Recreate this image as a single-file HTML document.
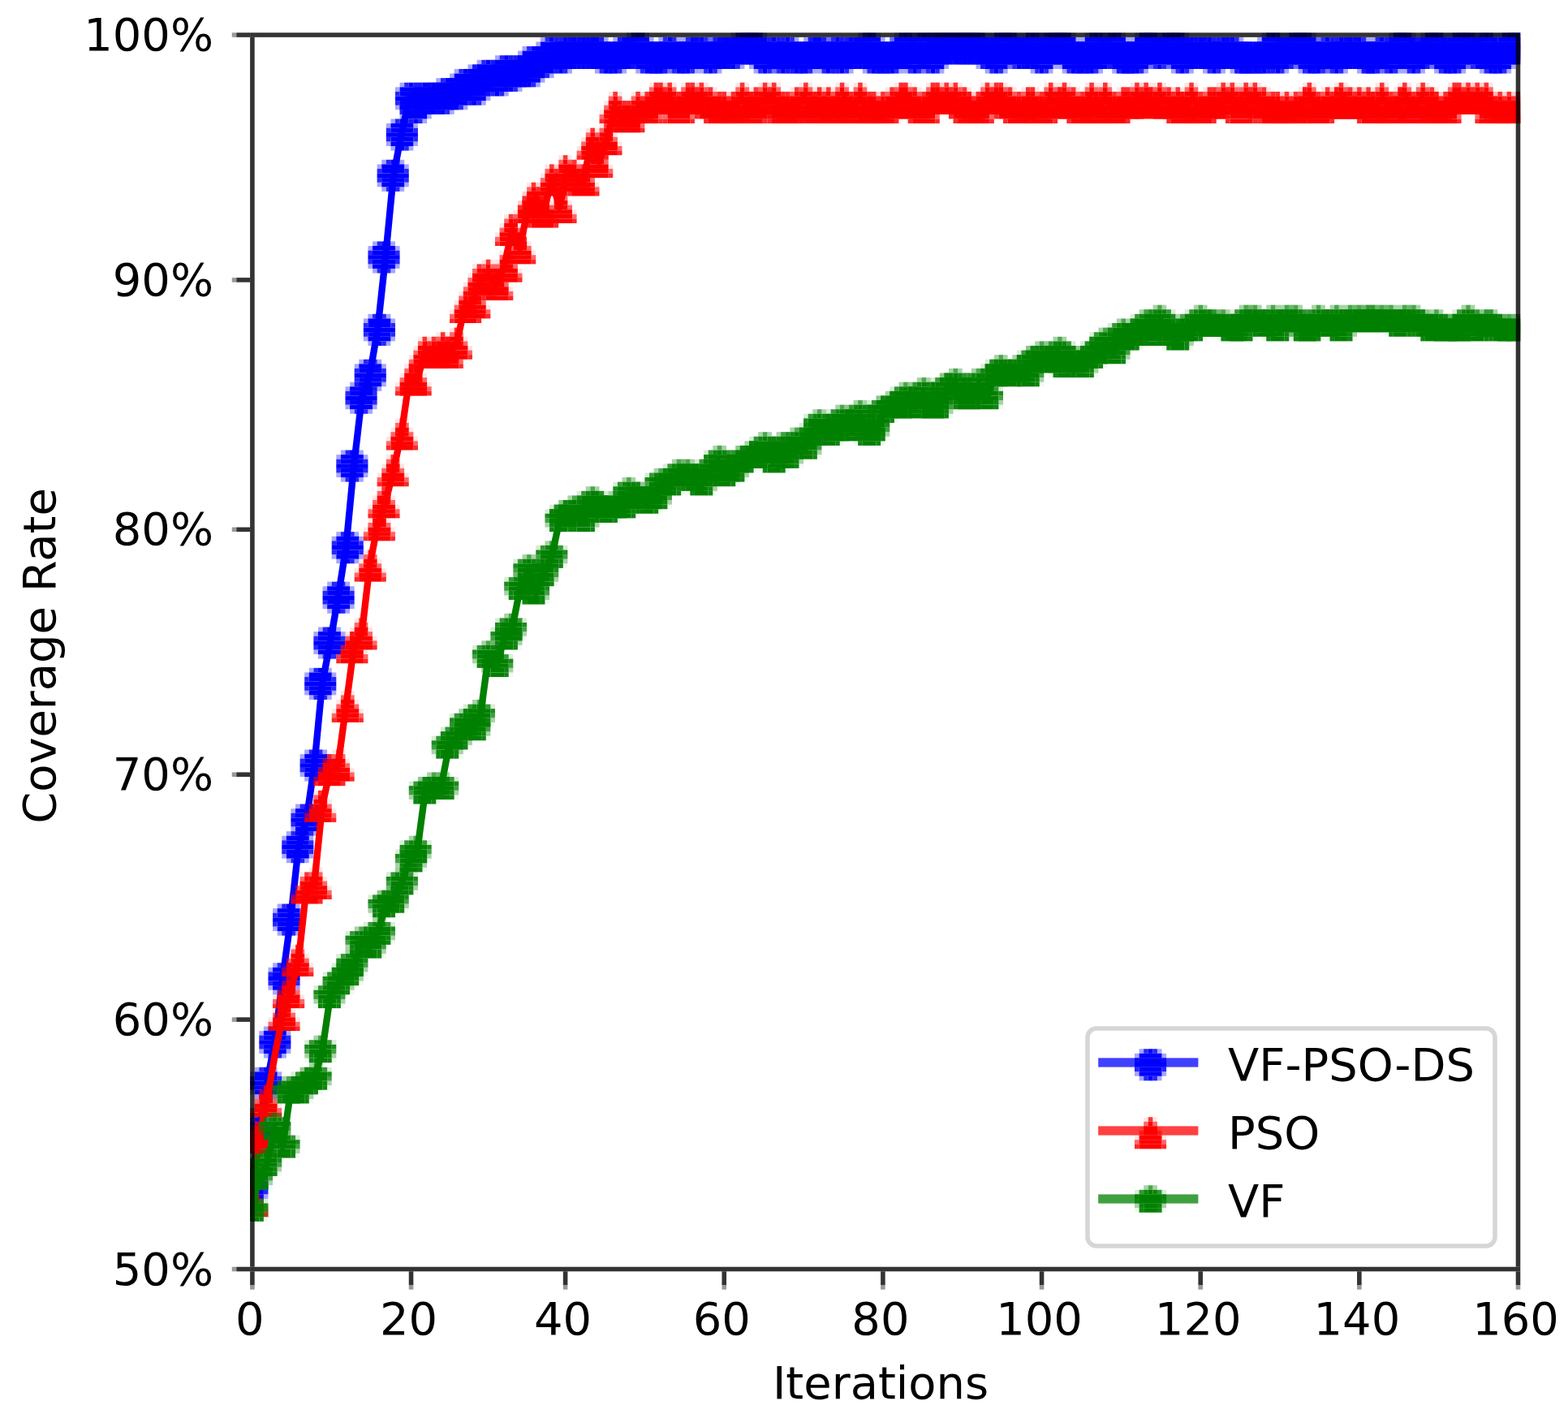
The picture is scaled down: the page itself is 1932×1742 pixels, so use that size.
<!DOCTYPE html>
<html lang="en">
<head>
<meta charset="utf-8">
<title>Coverage Rate vs Iterations</title>
<style>
html,body{margin:0;padding:0;background:#fff;}
body{width:1932px;height:1742px;overflow:hidden;}
svg{display:block;}
text{font-family:"DejaVu Sans","Liberation Sans",sans-serif;font-size:55.9px;fill:#000;}
</style>
</head>
<body>
<svg xmlns="http://www.w3.org/2000/svg" width="1932" height="1742" viewBox="0 0 1932 1742">
<rect width="1932" height="1742" fill="#fff"/>
<defs><g id="mc"><rect x="5.59" y="0" width="5.59" height="5.59" fill-opacity="0.35"/><rect x="11.18" y="0" width="5.59" height="5.59" fill-opacity="0.85"/><rect x="16.77" y="0" width="5.59" height="5.59"/><rect x="22.36" y="0" width="5.59" height="5.59" fill-opacity="0.85"/><rect x="27.95" y="0" width="5.59" height="5.59" fill-opacity="0.35"/><rect x="0" y="5.59" width="5.59" height="5.59" fill-opacity="0.35"/><rect x="5.59" y="5.59" width="27.95" height="5.59"/><rect x="33.54" y="5.59" width="5.59" height="5.59" fill-opacity="0.35"/><rect x="0" y="11.18" width="5.59" height="5.59" fill-opacity="0.85"/><rect x="5.59" y="11.18" width="27.95" height="5.59"/><rect x="33.54" y="11.18" width="5.59" height="5.59" fill-opacity="0.85"/><rect x="0" y="16.77" width="39.13" height="5.59"/><rect x="0" y="22.36" width="5.59" height="5.59" fill-opacity="0.85"/><rect x="5.59" y="22.36" width="27.95" height="5.59"/><rect x="33.54" y="22.36" width="5.59" height="5.59" fill-opacity="0.85"/><rect x="0" y="27.95" width="5.59" height="5.59" fill-opacity="0.35"/><rect x="5.59" y="27.95" width="27.95" height="5.59"/><rect x="33.54" y="27.95" width="5.59" height="5.59" fill-opacity="0.35"/><rect x="5.59" y="33.54" width="5.59" height="5.59" fill-opacity="0.35"/><rect x="11.18" y="33.54" width="5.59" height="5.59" fill-opacity="0.85"/><rect x="16.77" y="33.54" width="5.59" height="5.59"/><rect x="22.36" y="33.54" width="5.59" height="5.59" fill-opacity="0.85"/><rect x="27.95" y="33.54" width="5.59" height="5.59" fill-opacity="0.35"/></g><g id="mt"><rect x="11.18" y="0" width="5.59" height="5.59" fill-opacity="0.1"/><rect x="16.77" y="0" width="5.59" height="5.59" fill-opacity="0.8"/><rect x="22.36" y="0" width="5.59" height="5.59" fill-opacity="0.1"/><rect x="11.18" y="5.59" width="5.59" height="5.59" fill-opacity="0.6"/><rect x="16.77" y="5.59" width="5.59" height="5.59"/><rect x="22.36" y="5.59" width="5.59" height="5.59" fill-opacity="0.6"/><rect x="5.59" y="11.18" width="5.59" height="5.59" fill-opacity="0.1"/><rect x="11.18" y="11.18" width="16.77" height="5.59"/><rect x="27.95" y="11.18" width="5.59" height="5.59" fill-opacity="0.1"/><rect x="5.59" y="16.77" width="5.59" height="5.59" fill-opacity="0.6"/><rect x="11.18" y="16.77" width="16.77" height="5.59"/><rect x="27.95" y="16.77" width="5.59" height="5.59" fill-opacity="0.6"/><rect x="0" y="22.36" width="5.59" height="5.59" fill-opacity="0.1"/><rect x="5.59" y="22.36" width="27.95" height="5.59"/><rect x="33.54" y="22.36" width="5.59" height="5.59" fill-opacity="0.1"/><rect x="0" y="27.95" width="5.59" height="5.59" fill-opacity="0.6"/><rect x="5.59" y="27.95" width="27.95" height="5.59"/><rect x="33.54" y="27.95" width="5.59" height="5.59" fill-opacity="0.6"/><rect x="0" y="33.54" width="5.59" height="5.59" fill-opacity="0.85"/><rect x="5.59" y="33.54" width="27.95" height="5.59"/><rect x="33.54" y="33.54" width="5.59" height="5.59" fill-opacity="0.85"/></g><g id="mp"><rect x="11.18" y="0" width="5.59" height="5.59" fill-opacity="0.35"/><rect x="16.77" y="0" width="5.59" height="5.59" fill-opacity="0.7"/><rect x="22.36" y="0" width="5.59" height="5.59" fill-opacity="0.35"/><rect x="0" y="5.59" width="5.59" height="5.59" fill-opacity="0.15"/><rect x="5.59" y="5.59" width="5.59" height="5.59" fill-opacity="0.8"/><rect x="11.18" y="5.59" width="5.59" height="5.59" fill-opacity="0.95"/><rect x="16.77" y="5.59" width="5.59" height="5.59"/><rect x="22.36" y="5.59" width="5.59" height="5.59" fill-opacity="0.95"/><rect x="27.95" y="5.59" width="5.59" height="5.59" fill-opacity="0.8"/><rect x="33.54" y="5.59" width="5.59" height="5.59" fill-opacity="0.15"/><rect x="0" y="11.18" width="5.59" height="5.59" fill-opacity="0.9"/><rect x="5.59" y="11.18" width="27.95" height="5.59"/><rect x="33.54" y="11.18" width="5.59" height="5.59" fill-opacity="0.9"/><rect x="0" y="16.77" width="5.59" height="5.59" fill-opacity="0.75"/><rect x="5.59" y="16.77" width="27.95" height="5.59"/><rect x="33.54" y="16.77" width="5.59" height="5.59" fill-opacity="0.75"/><rect x="0" y="22.36" width="5.59" height="5.59" fill-opacity="0.35"/><rect x="5.59" y="22.36" width="5.59" height="5.59" fill-opacity="0.95"/><rect x="11.18" y="22.36" width="16.77" height="5.59"/><rect x="27.95" y="22.36" width="5.59" height="5.59" fill-opacity="0.95"/><rect x="33.54" y="22.36" width="5.59" height="5.59" fill-opacity="0.35"/><rect x="0" y="27.95" width="5.59" height="5.59" fill-opacity="0.05"/><rect x="5.59" y="27.95" width="5.59" height="5.59" fill-opacity="0.95"/><rect x="11.18" y="27.95" width="16.77" height="5.59"/><rect x="27.95" y="27.95" width="5.59" height="5.59" fill-opacity="0.95"/><rect x="33.54" y="27.95" width="5.59" height="5.59" fill-opacity="0.05"/></g>
<clipPath id="ax"><rect x="308.1" y="40.25" width="1565.2" height="1526.07"/></clipPath></defs>
<g clip-path="url(#ax)">
<g fill="#0000ff">
<polyline points="309.27,1462.9 319.02,1395.82 328.77,1334.33 338.52,1284.02 348.26,1205.76 358.01,1133.09 367.76,1043.65 377.51,1010.12 387.25,943.03 397,842.41 406.75,792.11 416.5,736.21 426.24,674.72 435.99,574.1 445.74,490.25 455.49,462.3 465.23,406.39 474.98,316.95 484.73,216.34 494.48,166.03 504.23,121.31 513.97,132.49 523.72,121.31 533.47,121.31 543.22,121.31 552.96,115.72 562.71,115.72 572.46,104.53 582.21,110.12 591.95,98.95 601.7,93.36 611.45,98.95 621.2,87.77 630.94,93.36 640.69,87.77 650.44,87.77 660.19,76.59 669.93,76.59 679.68,65.41 689.43,71 699.18,65.41 708.92,65.41 718.67,65.41 728.42,65.41 738.17,65.41 747.91,71 757.66,71 767.41,65.41 777.16,65.41 786.9,59.81 796.65,71 806.4,71 816.15,71 825.89,65.41 835.64,71 845.39,71 855.14,65.41 864.88,65.41 874.63,71 884.38,65.41 894.13,65.41 903.88,65.41 913.62,59.81 923.37,59.81 933.12,59.81 942.87,71 952.61,65.41 962.36,71 972.11,65.41 981.86,71 991.6,71 1001.35,65.41 1011.1,65.41 1020.85,71 1030.59,65.41 1040.34,71 1050.09,65.41 1059.84,65.41 1069.58,59.81 1079.33,71 1089.08,71 1098.83,71 1108.57,65.41 1118.32,59.81 1128.07,71 1137.82,59.81 1147.56,71 1157.31,59.81 1167.06,59.81 1176.81,59.81 1186.55,59.81 1196.3,59.81 1206.05,59.81 1215.8,65.41 1225.54,71 1235.29,59.81 1245.04,59.81 1254.79,65.41 1264.54,65.41 1274.28,59.81 1284.03,71 1293.78,59.81 1303.53,59.81 1313.27,59.81 1323.02,71 1332.77,71 1342.52,71 1352.26,59.81 1362.01,65.41 1371.76,59.81 1381.51,71 1391.25,71 1401,71 1410.75,59.81 1420.5,59.81 1430.24,65.41 1439.99,59.81 1449.74,59.81 1459.49,71 1469.23,65.41 1478.98,65.41 1488.73,65.41 1498.48,71 1508.22,65.41 1517.97,65.41 1527.72,71 1537.47,71 1547.21,71 1556.96,71 1566.71,59.81 1576.46,71 1586.2,65.41 1595.95,59.81 1605.7,59.81 1615.45,71 1625.19,71 1634.94,65.41 1644.69,71 1654.44,65.41 1664.19,65.41 1673.93,65.41 1683.68,71 1693.43,71 1703.18,65.41 1712.92,71 1722.67,59.81 1732.42,59.81 1742.17,71 1751.91,65.41 1761.66,59.81 1771.41,59.81 1781.16,71 1790.9,71 1800.65,59.81 1810.4,59.81 1820.15,65.41 1829.89,59.81 1839.64,71 1849.39,71 1859.14,59.81 1868.88,59.81" fill="none" stroke="#0000ff" stroke-width="8.38" stroke-linejoin="round"/>
<use href="#mc" x="291.33" y="1443.34"/>
<use href="#mc" x="296.92" y="1376.26"/>
<use href="#mc" x="308.1" y="1314.77"/>
<use href="#mc" x="319.28" y="1264.46"/>
<use href="#mc" x="330.46" y="1186.2"/>
<use href="#mc" x="336.05" y="1113.53"/>
<use href="#mc" x="347.23" y="1024.09"/>
<use href="#mc" x="358.41" y="990.55"/>
<use href="#mc" x="369.59" y="923.47"/>
<use href="#mc" x="375.18" y="822.85"/>
<use href="#mc" x="386.36" y="772.54"/>
<use href="#mc" x="397.54" y="716.64"/>
<use href="#mc" x="408.72" y="655.15"/>
<use href="#mc" x="414.31" y="554.53"/>
<use href="#mc" x="425.49" y="470.68"/>
<use href="#mc" x="436.67" y="442.73"/>
<use href="#mc" x="447.85" y="386.83"/>
<use href="#mc" x="453.44" y="297.39"/>
<use href="#mc" x="464.62" y="196.77"/>
<use href="#mc" x="475.8" y="146.46"/>
<use href="#mc" x="486.98" y="101.74"/>
<use href="#mc" x="492.57" y="112.92"/>
<use href="#mc" x="503.75" y="101.74"/>
<use href="#mc" x="514.93" y="101.74"/>
<use href="#mc" x="526.11" y="101.74"/>
<use href="#mc" x="531.7" y="96.15"/>
<use href="#mc" x="542.88" y="96.15"/>
<use href="#mc" x="554.06" y="84.97"/>
<use href="#mc" x="565.24" y="90.56"/>
<use href="#mc" x="570.83" y="79.38"/>
<use href="#mc" x="582.01" y="73.79"/>
<use href="#mc" x="593.19" y="79.38"/>
<use href="#mc" x="604.37" y="68.2"/>
<use href="#mc" x="609.96" y="73.79"/>
<use href="#mc" x="621.14" y="68.2"/>
<use href="#mc" x="632.32" y="68.2"/>
<use href="#mc" x="637.91" y="57.02"/>
<use href="#mc" x="649.09" y="57.02"/>
<use href="#mc" x="660.27" y="45.84"/>
<use href="#mc" x="671.45" y="51.43"/>
<use href="#mc" x="677.04" y="45.84"/>
<use href="#mc" x="688.22" y="45.84"/>
<use href="#mc" x="699.4" y="45.84"/>
<use href="#mc" x="710.58" y="45.84"/>
<use href="#mc" x="716.17" y="45.84"/>
<use href="#mc" x="727.35" y="51.43"/>
<use href="#mc" x="738.53" y="51.43"/>
<use href="#mc" x="749.71" y="45.84"/>
<use href="#mc" x="755.3" y="45.84"/>
<use href="#mc" x="766.48" y="40.25"/>
<use href="#mc" x="777.66" y="51.43"/>
<use href="#mc" x="788.84" y="51.43"/>
<use href="#mc" x="794.43" y="51.43"/>
<use href="#mc" x="805.61" y="45.84"/>
<use href="#mc" x="816.79" y="51.43"/>
<use href="#mc" x="827.97" y="51.43"/>
<use href="#mc" x="833.56" y="45.84"/>
<use href="#mc" x="844.74" y="45.84"/>
<use href="#mc" x="855.92" y="51.43"/>
<use href="#mc" x="867.1" y="45.84"/>
<use href="#mc" x="872.69" y="45.84"/>
<use href="#mc" x="883.87" y="45.84"/>
<use href="#mc" x="895.05" y="40.25"/>
<use href="#mc" x="906.23" y="40.25"/>
<use href="#mc" x="911.82" y="40.25"/>
<use href="#mc" x="923" y="51.43"/>
<use href="#mc" x="934.18" y="45.84"/>
<use href="#mc" x="945.36" y="51.43"/>
<use href="#mc" x="950.95" y="45.84"/>
<use href="#mc" x="962.13" y="51.43"/>
<use href="#mc" x="973.31" y="51.43"/>
<use href="#mc" x="984.49" y="45.84"/>
<use href="#mc" x="990.08" y="45.84"/>
<use href="#mc" x="1001.26" y="51.43"/>
<use href="#mc" x="1012.44" y="45.84"/>
<use href="#mc" x="1018.03" y="51.43"/>
<use href="#mc" x="1029.21" y="45.84"/>
<use href="#mc" x="1040.39" y="45.84"/>
<use href="#mc" x="1051.57" y="40.25"/>
<use href="#mc" x="1057.16" y="51.43"/>
<use href="#mc" x="1068.34" y="51.43"/>
<use href="#mc" x="1079.52" y="51.43"/>
<use href="#mc" x="1090.7" y="45.84"/>
<use href="#mc" x="1096.29" y="40.25"/>
<use href="#mc" x="1107.47" y="51.43"/>
<use href="#mc" x="1118.65" y="40.25"/>
<use href="#mc" x="1129.83" y="51.43"/>
<use href="#mc" x="1135.42" y="40.25"/>
<use href="#mc" x="1146.6" y="40.25"/>
<use href="#mc" x="1157.78" y="40.25"/>
<use href="#mc" x="1168.96" y="40.25"/>
<use href="#mc" x="1174.55" y="40.25"/>
<use href="#mc" x="1185.73" y="40.25"/>
<use href="#mc" x="1196.91" y="45.84"/>
<use href="#mc" x="1208.09" y="51.43"/>
<use href="#mc" x="1213.68" y="40.25"/>
<use href="#mc" x="1224.86" y="40.25"/>
<use href="#mc" x="1236.04" y="45.84"/>
<use href="#mc" x="1247.22" y="45.84"/>
<use href="#mc" x="1252.81" y="40.25"/>
<use href="#mc" x="1263.99" y="51.43"/>
<use href="#mc" x="1275.17" y="40.25"/>
<use href="#mc" x="1286.35" y="40.25"/>
<use href="#mc" x="1291.94" y="40.25"/>
<use href="#mc" x="1303.12" y="51.43"/>
<use href="#mc" x="1314.3" y="51.43"/>
<use href="#mc" x="1325.48" y="51.43"/>
<use href="#mc" x="1331.07" y="40.25"/>
<use href="#mc" x="1342.25" y="45.84"/>
<use href="#mc" x="1353.43" y="40.25"/>
<use href="#mc" x="1364.61" y="51.43"/>
<use href="#mc" x="1370.2" y="51.43"/>
<use href="#mc" x="1381.38" y="51.43"/>
<use href="#mc" x="1392.56" y="40.25"/>
<use href="#mc" x="1398.15" y="40.25"/>
<use href="#mc" x="1409.33" y="45.84"/>
<use href="#mc" x="1420.51" y="40.25"/>
<use href="#mc" x="1431.69" y="40.25"/>
<use href="#mc" x="1437.28" y="51.43"/>
<use href="#mc" x="1448.46" y="45.84"/>
<use href="#mc" x="1459.64" y="45.84"/>
<use href="#mc" x="1470.82" y="45.84"/>
<use href="#mc" x="1476.41" y="51.43"/>
<use href="#mc" x="1487.59" y="45.84"/>
<use href="#mc" x="1498.77" y="45.84"/>
<use href="#mc" x="1509.95" y="51.43"/>
<use href="#mc" x="1515.54" y="51.43"/>
<use href="#mc" x="1526.72" y="51.43"/>
<use href="#mc" x="1537.9" y="51.43"/>
<use href="#mc" x="1549.08" y="40.25"/>
<use href="#mc" x="1554.67" y="51.43"/>
<use href="#mc" x="1565.85" y="45.84"/>
<use href="#mc" x="1577.03" y="40.25"/>
<use href="#mc" x="1588.21" y="40.25"/>
<use href="#mc" x="1593.8" y="51.43"/>
<use href="#mc" x="1604.98" y="51.43"/>
<use href="#mc" x="1616.16" y="45.84"/>
<use href="#mc" x="1627.34" y="51.43"/>
<use href="#mc" x="1632.93" y="45.84"/>
<use href="#mc" x="1644.11" y="45.84"/>
<use href="#mc" x="1655.29" y="45.84"/>
<use href="#mc" x="1666.47" y="51.43"/>
<use href="#mc" x="1672.06" y="51.43"/>
<use href="#mc" x="1683.24" y="45.84"/>
<use href="#mc" x="1694.42" y="51.43"/>
<use href="#mc" x="1705.6" y="40.25"/>
<use href="#mc" x="1711.19" y="40.25"/>
<use href="#mc" x="1722.37" y="51.43"/>
<use href="#mc" x="1733.55" y="45.84"/>
<use href="#mc" x="1744.73" y="40.25"/>
<use href="#mc" x="1750.32" y="40.25"/>
<use href="#mc" x="1761.5" y="51.43"/>
<use href="#mc" x="1772.68" y="51.43"/>
<use href="#mc" x="1778.27" y="40.25"/>
<use href="#mc" x="1789.45" y="40.25"/>
<use href="#mc" x="1800.63" y="45.84"/>
<use href="#mc" x="1811.81" y="40.25"/>
<use href="#mc" x="1817.4" y="51.43"/>
<use href="#mc" x="1828.58" y="51.43"/>
<use href="#mc" x="1839.76" y="40.25"/>
<use href="#mc" x="1850.94" y="40.25"/>
</g>
<g fill="#ff0000">
<polyline points="309.27,1479.67 319.02,1401.41 328.77,1356.69 338.52,1300.79 348.26,1250.48 358.01,1222.53 367.76,1183.4 377.51,1093.96 387.25,1088.37 397,993.35 406.75,948.62 416.5,943.03 426.24,870.37 435.99,797.69 445.74,780.92 455.49,697.07 465.23,646.76 474.98,618.81 484.73,579.68 494.48,534.97 504.23,467.88 513.97,467.88 523.72,434.34 533.47,434.34 543.22,428.75 552.96,434.34 562.71,423.17 572.46,378.44 582.21,372.86 591.95,344.9 601.7,339.31 611.45,350.5 621.2,328.13 630.94,283.42 640.69,305.77 650.44,255.47 660.19,244.28 669.93,261.06 679.68,221.93 689.43,255.47 699.18,210.75 708.92,216.34 718.67,221.93 728.42,177.21 738.17,199.56 747.91,171.62 757.66,132.49 767.41,143.66 777.16,143.66 786.9,132.49 796.65,132.49 806.4,121.31 816.15,121.31 825.89,121.31 835.64,132.49 845.39,121.31 855.14,121.31 864.88,121.31 874.63,126.89 884.38,132.49 894.13,132.49 903.88,132.49 913.62,121.31 923.37,132.49 933.12,126.89 942.87,121.31 952.61,121.31 962.36,132.49 972.11,132.49 981.86,126.89 991.6,121.31 1001.35,132.49 1011.1,126.89 1020.85,126.89 1030.59,132.49 1040.34,121.31 1050.09,132.49 1059.84,121.31 1069.58,132.49 1079.33,132.49 1089.08,132.49 1098.83,126.89 1108.57,121.31 1118.32,121.31 1128.07,126.89 1137.82,132.49 1147.56,121.31 1157.31,121.31 1167.06,121.31 1176.81,121.31 1186.55,126.89 1196.3,132.49 1206.05,132.49 1215.8,121.31 1225.54,121.31 1235.29,121.31 1245.04,126.89 1254.79,132.49 1264.54,126.89 1274.28,126.89 1284.03,132.49 1293.78,121.31 1303.53,126.89 1313.27,121.31 1323.02,126.89 1332.77,132.49 1342.52,121.31 1352.26,132.49 1362.01,121.31 1371.76,132.49 1381.51,126.89 1391.25,126.89 1401,121.31 1410.75,121.31 1420.5,126.89 1430.24,121.31 1439.99,126.89 1449.74,126.89 1459.49,132.49 1469.23,121.31 1478.98,132.49 1488.73,126.89 1498.48,126.89 1508.22,121.31 1517.97,121.31 1527.72,132.49 1537.47,121.31 1547.21,121.31 1556.96,126.89 1566.71,132.49 1576.46,132.49 1586.2,132.49 1595.95,132.49 1605.7,126.89 1615.45,121.31 1625.19,132.49 1634.94,126.89 1644.69,126.89 1654.44,121.31 1664.19,126.89 1673.93,126.89 1683.68,126.89 1693.43,132.49 1703.18,121.31 1712.92,132.49 1722.67,126.89 1732.42,121.31 1742.17,132.49 1751.91,121.31 1761.66,126.89 1771.41,132.49 1781.16,132.49 1790.9,121.31 1800.65,121.31 1810.4,121.31 1820.15,121.31 1829.89,121.31 1839.64,132.49 1849.39,132.49 1859.14,132.49 1868.88,132.49" fill="none" stroke="#ff0000" stroke-width="8.38" stroke-linejoin="round"/>
<use href="#mt" x="291.33" y="1460.11"/>
<use href="#mt" x="296.92" y="1381.85"/>
<use href="#mt" x="308.1" y="1337.13"/>
<use href="#mt" x="330.46" y="1230.92"/>
<use href="#mt" x="336.05" y="1202.97"/>
<use href="#mt" x="347.23" y="1163.84"/>
<use href="#mt" x="358.41" y="1074.4"/>
<use href="#mt" x="369.59" y="1068.81"/>
<use href="#mt" x="375.18" y="973.78"/>
<use href="#mt" x="386.36" y="929.06"/>
<use href="#mt" x="397.54" y="923.47"/>
<use href="#mt" x="408.72" y="850.8"/>
<use href="#mt" x="414.31" y="778.13"/>
<use href="#mt" x="425.49" y="761.36"/>
<use href="#mt" x="436.67" y="677.51"/>
<use href="#mt" x="447.85" y="627.2"/>
<use href="#mt" x="453.44" y="599.25"/>
<use href="#mt" x="464.62" y="560.12"/>
<use href="#mt" x="475.8" y="515.4"/>
<use href="#mt" x="486.98" y="448.32"/>
<use href="#mt" x="492.57" y="448.32"/>
<use href="#mt" x="503.75" y="414.78"/>
<use href="#mt" x="514.93" y="414.78"/>
<use href="#mt" x="526.11" y="409.19"/>
<use href="#mt" x="531.7" y="414.78"/>
<use href="#mt" x="542.88" y="403.6"/>
<use href="#mt" x="554.06" y="358.88"/>
<use href="#mt" x="565.24" y="353.29"/>
<use href="#mt" x="570.83" y="325.34"/>
<use href="#mt" x="582.01" y="319.75"/>
<use href="#mt" x="593.19" y="330.93"/>
<use href="#mt" x="604.37" y="308.57"/>
<use href="#mt" x="609.96" y="263.85"/>
<use href="#mt" x="621.14" y="286.21"/>
<use href="#mt" x="632.32" y="235.9"/>
<use href="#mt" x="637.91" y="224.72"/>
<use href="#mt" x="649.09" y="241.49"/>
<use href="#mt" x="660.27" y="202.36"/>
<use href="#mt" x="671.45" y="235.9"/>
<use href="#mt" x="677.04" y="191.18"/>
<use href="#mt" x="688.22" y="196.77"/>
<use href="#mt" x="699.4" y="202.36"/>
<use href="#mt" x="710.58" y="157.64"/>
<use href="#mt" x="716.17" y="180"/>
<use href="#mt" x="727.35" y="152.05"/>
<use href="#mt" x="738.53" y="112.92"/>
<use href="#mt" x="749.71" y="124.1"/>
<use href="#mt" x="755.3" y="124.1"/>
<use href="#mt" x="766.48" y="112.92"/>
<use href="#mt" x="777.66" y="112.92"/>
<use href="#mt" x="788.84" y="101.74"/>
<use href="#mt" x="794.43" y="101.74"/>
<use href="#mt" x="805.61" y="101.74"/>
<use href="#mt" x="816.79" y="112.92"/>
<use href="#mt" x="827.97" y="101.74"/>
<use href="#mt" x="833.56" y="101.74"/>
<use href="#mt" x="844.74" y="101.74"/>
<use href="#mt" x="855.92" y="107.33"/>
<use href="#mt" x="867.1" y="112.92"/>
<use href="#mt" x="872.69" y="112.92"/>
<use href="#mt" x="883.87" y="112.92"/>
<use href="#mt" x="895.05" y="101.74"/>
<use href="#mt" x="906.23" y="112.92"/>
<use href="#mt" x="911.82" y="107.33"/>
<use href="#mt" x="923" y="101.74"/>
<use href="#mt" x="934.18" y="101.74"/>
<use href="#mt" x="945.36" y="112.92"/>
<use href="#mt" x="950.95" y="112.92"/>
<use href="#mt" x="962.13" y="107.33"/>
<use href="#mt" x="973.31" y="101.74"/>
<use href="#mt" x="984.49" y="112.92"/>
<use href="#mt" x="990.08" y="107.33"/>
<use href="#mt" x="1001.26" y="107.33"/>
<use href="#mt" x="1012.44" y="112.92"/>
<use href="#mt" x="1018.03" y="101.74"/>
<use href="#mt" x="1029.21" y="112.92"/>
<use href="#mt" x="1040.39" y="101.74"/>
<use href="#mt" x="1051.57" y="112.92"/>
<use href="#mt" x="1057.16" y="112.92"/>
<use href="#mt" x="1068.34" y="112.92"/>
<use href="#mt" x="1079.52" y="107.33"/>
<use href="#mt" x="1090.7" y="101.74"/>
<use href="#mt" x="1096.29" y="101.74"/>
<use href="#mt" x="1107.47" y="107.33"/>
<use href="#mt" x="1118.65" y="112.92"/>
<use href="#mt" x="1129.83" y="101.74"/>
<use href="#mt" x="1135.42" y="101.74"/>
<use href="#mt" x="1146.6" y="101.74"/>
<use href="#mt" x="1157.78" y="101.74"/>
<use href="#mt" x="1168.96" y="107.33"/>
<use href="#mt" x="1174.55" y="112.92"/>
<use href="#mt" x="1185.73" y="112.92"/>
<use href="#mt" x="1196.91" y="101.74"/>
<use href="#mt" x="1208.09" y="101.74"/>
<use href="#mt" x="1213.68" y="101.74"/>
<use href="#mt" x="1224.86" y="107.33"/>
<use href="#mt" x="1236.04" y="112.92"/>
<use href="#mt" x="1247.22" y="107.33"/>
<use href="#mt" x="1252.81" y="107.33"/>
<use href="#mt" x="1263.99" y="112.92"/>
<use href="#mt" x="1275.17" y="101.74"/>
<use href="#mt" x="1286.35" y="107.33"/>
<use href="#mt" x="1291.94" y="101.74"/>
<use href="#mt" x="1303.12" y="107.33"/>
<use href="#mt" x="1314.3" y="112.92"/>
<use href="#mt" x="1325.48" y="101.74"/>
<use href="#mt" x="1331.07" y="112.92"/>
<use href="#mt" x="1342.25" y="101.74"/>
<use href="#mt" x="1353.43" y="112.92"/>
<use href="#mt" x="1364.61" y="107.33"/>
<use href="#mt" x="1370.2" y="107.33"/>
<use href="#mt" x="1381.38" y="101.74"/>
<use href="#mt" x="1392.56" y="101.74"/>
<use href="#mt" x="1398.15" y="107.33"/>
<use href="#mt" x="1409.33" y="101.74"/>
<use href="#mt" x="1420.51" y="107.33"/>
<use href="#mt" x="1431.69" y="107.33"/>
<use href="#mt" x="1437.28" y="112.92"/>
<use href="#mt" x="1448.46" y="101.74"/>
<use href="#mt" x="1459.64" y="112.92"/>
<use href="#mt" x="1470.82" y="107.33"/>
<use href="#mt" x="1476.41" y="107.33"/>
<use href="#mt" x="1487.59" y="101.74"/>
<use href="#mt" x="1498.77" y="101.74"/>
<use href="#mt" x="1509.95" y="112.92"/>
<use href="#mt" x="1515.54" y="101.74"/>
<use href="#mt" x="1526.72" y="101.74"/>
<use href="#mt" x="1537.9" y="107.33"/>
<use href="#mt" x="1549.08" y="112.92"/>
<use href="#mt" x="1554.67" y="112.92"/>
<use href="#mt" x="1565.85" y="112.92"/>
<use href="#mt" x="1577.03" y="112.92"/>
<use href="#mt" x="1588.21" y="107.33"/>
<use href="#mt" x="1593.8" y="101.74"/>
<use href="#mt" x="1604.98" y="112.92"/>
<use href="#mt" x="1616.16" y="107.33"/>
<use href="#mt" x="1627.34" y="107.33"/>
<use href="#mt" x="1632.93" y="101.74"/>
<use href="#mt" x="1644.11" y="107.33"/>
<use href="#mt" x="1655.29" y="107.33"/>
<use href="#mt" x="1666.47" y="107.33"/>
<use href="#mt" x="1672.06" y="112.92"/>
<use href="#mt" x="1683.24" y="101.74"/>
<use href="#mt" x="1694.42" y="112.92"/>
<use href="#mt" x="1705.6" y="107.33"/>
<use href="#mt" x="1711.19" y="101.74"/>
<use href="#mt" x="1722.37" y="112.92"/>
<use href="#mt" x="1733.55" y="101.74"/>
<use href="#mt" x="1744.73" y="107.33"/>
<use href="#mt" x="1750.32" y="112.92"/>
<use href="#mt" x="1761.5" y="112.92"/>
<use href="#mt" x="1772.68" y="101.74"/>
<use href="#mt" x="1778.27" y="101.74"/>
<use href="#mt" x="1789.45" y="101.74"/>
<use href="#mt" x="1800.63" y="101.74"/>
<use href="#mt" x="1811.81" y="101.74"/>
<use href="#mt" x="1817.4" y="112.92"/>
<use href="#mt" x="1828.58" y="112.92"/>
<use href="#mt" x="1839.76" y="112.92"/>
<use href="#mt" x="1850.94" y="112.92"/>
</g>
<g fill="#008000">
<polyline points="309.27,1490.85 319.02,1451.72 328.77,1434.95 338.52,1390.23 348.26,1412.59 358.01,1345.51 367.76,1345.51 377.51,1334.33 387.25,1328.74 397,1295.2 406.75,1228.12 416.5,1211.35 426.24,1200.17 435.99,1188.99 445.74,1161.04 455.49,1166.63 465.23,1149.86 474.98,1116.32 484.73,1110.73 494.48,1088.37 504.23,1060.42 513.97,1049.24 523.72,976.57 533.47,970.99 543.22,970.99 552.96,920.67 562.71,909.5 572.46,892.73 582.21,898.31 591.95,881.54 601.7,808.88 611.45,820.05 621.2,786.51 630.94,775.34 640.69,725.02 650.44,702.66 660.19,730.62 669.93,708.25 679.68,685.89 689.43,641.17 699.18,635.59 708.92,630 718.67,641.17 728.42,618.81 738.17,624.4 747.91,630 757.66,624.4 767.41,624.4 777.16,607.63 786.9,613.23 796.65,618.81 806.4,613.23 816.15,596.46 825.89,596.46 835.64,585.27 845.39,585.27 855.14,590.87 864.88,596.46 874.63,579.68 884.38,568.5 894.13,585.27 903.88,579.68 913.62,568.5 923.37,562.91 933.12,562.91 942.87,551.74 952.61,568.5 962.36,551.74 972.11,562.91 981.86,546.14 991.6,551.74 1001.35,534.97 1011.1,523.78 1020.85,534.97 1030.59,529.38 1040.34,518.19 1050.09,529.38 1059.84,512.61 1069.58,534.97 1079.33,529.38 1089.08,507.01 1098.83,501.43 1108.57,501.43 1118.32,490.25 1128.07,501.43 1137.82,484.65 1147.56,501.43 1157.31,501.43 1167.06,479.06 1176.81,473.47 1186.55,490.25 1196.3,490.25 1206.05,473.47 1215.8,490.25 1225.54,462.3 1235.29,456.7 1245.04,462.3 1254.79,456.7 1264.54,462.3 1274.28,445.52 1284.03,439.94 1293.78,445.52 1303.53,434.34 1313.27,451.12 1323.02,445.52 1332.77,451.12 1342.52,439.94 1352.26,434.34 1362.01,423.17 1371.76,434.34 1381.51,411.99 1391.25,417.57 1401,411.99 1410.75,400.81 1420.5,411.99 1430.24,395.21 1439.99,411.99 1449.74,417.57 1459.49,406.39 1469.23,406.39 1478.98,395.21 1488.73,400.81 1498.48,400.81 1508.22,400.81 1517.97,406.39 1527.72,406.39 1537.47,395.21 1547.21,395.21 1556.96,400.81 1566.71,395.21 1576.46,406.39 1586.2,395.21 1595.95,395.21 1605.7,406.39 1615.45,406.39 1625.19,395.21 1634.94,400.81 1644.69,395.21 1654.44,406.39 1664.19,395.21 1673.93,395.21 1683.68,395.21 1693.43,395.21 1703.18,395.21 1712.92,395.21 1722.67,400.81 1732.42,395.21 1742.17,395.21 1751.91,400.81 1761.66,406.39 1771.41,400.81 1781.16,406.39 1790.9,406.39 1800.65,406.39 1810.4,395.21 1820.15,406.39 1829.89,400.81 1839.64,400.81 1849.39,406.39 1859.14,406.39 1868.88,406.39" fill="none" stroke="#008000" stroke-width="8.38" stroke-linejoin="round"/>
<use href="#mp" x="291.33" y="1471.29"/>
<use href="#mp" x="296.92" y="1432.16"/>
<use href="#mp" x="308.1" y="1415.39"/>
<use href="#mp" x="319.28" y="1370.67"/>
<use href="#mp" x="330.46" y="1393.03"/>
<use href="#mp" x="336.05" y="1325.95"/>
<use href="#mp" x="347.23" y="1325.95"/>
<use href="#mp" x="358.41" y="1314.77"/>
<use href="#mp" x="369.59" y="1309.18"/>
<use href="#mp" x="375.18" y="1275.64"/>
<use href="#mp" x="386.36" y="1208.56"/>
<use href="#mp" x="397.54" y="1191.79"/>
<use href="#mp" x="408.72" y="1180.61"/>
<use href="#mp" x="414.31" y="1169.43"/>
<use href="#mp" x="425.49" y="1141.48"/>
<use href="#mp" x="436.67" y="1147.07"/>
<use href="#mp" x="447.85" y="1130.3"/>
<use href="#mp" x="453.44" y="1096.76"/>
<use href="#mp" x="464.62" y="1091.17"/>
<use href="#mp" x="475.8" y="1068.81"/>
<use href="#mp" x="486.98" y="1040.86"/>
<use href="#mp" x="492.57" y="1029.68"/>
<use href="#mp" x="503.75" y="957.01"/>
<use href="#mp" x="514.93" y="951.42"/>
<use href="#mp" x="526.11" y="951.42"/>
<use href="#mp" x="531.7" y="901.11"/>
<use href="#mp" x="542.88" y="889.93"/>
<use href="#mp" x="554.06" y="873.16"/>
<use href="#mp" x="565.24" y="878.75"/>
<use href="#mp" x="570.83" y="861.98"/>
<use href="#mp" x="582.01" y="789.31"/>
<use href="#mp" x="593.19" y="800.49"/>
<use href="#mp" x="604.37" y="766.95"/>
<use href="#mp" x="609.96" y="755.77"/>
<use href="#mp" x="621.14" y="705.46"/>
<use href="#mp" x="632.32" y="683.1"/>
<use href="#mp" x="637.91" y="711.05"/>
<use href="#mp" x="649.09" y="688.69"/>
<use href="#mp" x="660.27" y="666.33"/>
<use href="#mp" x="671.45" y="621.61"/>
<use href="#mp" x="677.04" y="616.02"/>
<use href="#mp" x="688.22" y="610.43"/>
<use href="#mp" x="699.4" y="621.61"/>
<use href="#mp" x="710.58" y="599.25"/>
<use href="#mp" x="716.17" y="604.84"/>
<use href="#mp" x="727.35" y="610.43"/>
<use href="#mp" x="738.53" y="604.84"/>
<use href="#mp" x="749.71" y="604.84"/>
<use href="#mp" x="755.3" y="588.07"/>
<use href="#mp" x="766.48" y="593.66"/>
<use href="#mp" x="777.66" y="599.25"/>
<use href="#mp" x="788.84" y="593.66"/>
<use href="#mp" x="794.43" y="576.89"/>
<use href="#mp" x="805.61" y="576.89"/>
<use href="#mp" x="816.79" y="565.71"/>
<use href="#mp" x="827.97" y="565.71"/>
<use href="#mp" x="833.56" y="571.3"/>
<use href="#mp" x="844.74" y="576.89"/>
<use href="#mp" x="855.92" y="560.12"/>
<use href="#mp" x="867.1" y="548.94"/>
<use href="#mp" x="872.69" y="565.71"/>
<use href="#mp" x="883.87" y="560.12"/>
<use href="#mp" x="895.05" y="548.94"/>
<use href="#mp" x="906.23" y="543.35"/>
<use href="#mp" x="911.82" y="543.35"/>
<use href="#mp" x="923" y="532.17"/>
<use href="#mp" x="934.18" y="548.94"/>
<use href="#mp" x="945.36" y="532.17"/>
<use href="#mp" x="950.95" y="543.35"/>
<use href="#mp" x="962.13" y="526.58"/>
<use href="#mp" x="973.31" y="532.17"/>
<use href="#mp" x="984.49" y="515.4"/>
<use href="#mp" x="990.08" y="504.22"/>
<use href="#mp" x="1001.26" y="515.4"/>
<use href="#mp" x="1012.44" y="509.81"/>
<use href="#mp" x="1018.03" y="498.63"/>
<use href="#mp" x="1029.21" y="509.81"/>
<use href="#mp" x="1040.39" y="493.04"/>
<use href="#mp" x="1051.57" y="515.4"/>
<use href="#mp" x="1057.16" y="509.81"/>
<use href="#mp" x="1068.34" y="487.45"/>
<use href="#mp" x="1079.52" y="481.86"/>
<use href="#mp" x="1090.7" y="481.86"/>
<use href="#mp" x="1096.29" y="470.68"/>
<use href="#mp" x="1107.47" y="481.86"/>
<use href="#mp" x="1118.65" y="465.09"/>
<use href="#mp" x="1129.83" y="481.86"/>
<use href="#mp" x="1135.42" y="481.86"/>
<use href="#mp" x="1146.6" y="459.5"/>
<use href="#mp" x="1157.78" y="453.91"/>
<use href="#mp" x="1168.96" y="470.68"/>
<use href="#mp" x="1174.55" y="470.68"/>
<use href="#mp" x="1185.73" y="453.91"/>
<use href="#mp" x="1196.91" y="470.68"/>
<use href="#mp" x="1208.09" y="442.73"/>
<use href="#mp" x="1213.68" y="437.14"/>
<use href="#mp" x="1224.86" y="442.73"/>
<use href="#mp" x="1236.04" y="437.14"/>
<use href="#mp" x="1247.22" y="442.73"/>
<use href="#mp" x="1252.81" y="425.96"/>
<use href="#mp" x="1263.99" y="420.37"/>
<use href="#mp" x="1275.17" y="425.96"/>
<use href="#mp" x="1286.35" y="414.78"/>
<use href="#mp" x="1291.94" y="431.55"/>
<use href="#mp" x="1303.12" y="425.96"/>
<use href="#mp" x="1314.3" y="431.55"/>
<use href="#mp" x="1325.48" y="420.37"/>
<use href="#mp" x="1331.07" y="414.78"/>
<use href="#mp" x="1342.25" y="403.6"/>
<use href="#mp" x="1353.43" y="414.78"/>
<use href="#mp" x="1364.61" y="392.42"/>
<use href="#mp" x="1370.2" y="398.01"/>
<use href="#mp" x="1381.38" y="392.42"/>
<use href="#mp" x="1392.56" y="381.24"/>
<use href="#mp" x="1398.15" y="392.42"/>
<use href="#mp" x="1409.33" y="375.65"/>
<use href="#mp" x="1420.51" y="392.42"/>
<use href="#mp" x="1431.69" y="398.01"/>
<use href="#mp" x="1437.28" y="386.83"/>
<use href="#mp" x="1448.46" y="386.83"/>
<use href="#mp" x="1459.64" y="375.65"/>
<use href="#mp" x="1470.82" y="381.24"/>
<use href="#mp" x="1476.41" y="381.24"/>
<use href="#mp" x="1487.59" y="381.24"/>
<use href="#mp" x="1498.77" y="386.83"/>
<use href="#mp" x="1509.95" y="386.83"/>
<use href="#mp" x="1515.54" y="375.65"/>
<use href="#mp" x="1526.72" y="375.65"/>
<use href="#mp" x="1537.9" y="381.24"/>
<use href="#mp" x="1549.08" y="375.65"/>
<use href="#mp" x="1554.67" y="386.83"/>
<use href="#mp" x="1565.85" y="375.65"/>
<use href="#mp" x="1577.03" y="375.65"/>
<use href="#mp" x="1588.21" y="386.83"/>
<use href="#mp" x="1593.8" y="386.83"/>
<use href="#mp" x="1604.98" y="375.65"/>
<use href="#mp" x="1616.16" y="381.24"/>
<use href="#mp" x="1627.34" y="375.65"/>
<use href="#mp" x="1632.93" y="386.83"/>
<use href="#mp" x="1644.11" y="375.65"/>
<use href="#mp" x="1655.29" y="375.65"/>
<use href="#mp" x="1666.47" y="375.65"/>
<use href="#mp" x="1672.06" y="375.65"/>
<use href="#mp" x="1683.24" y="375.65"/>
<use href="#mp" x="1694.42" y="375.65"/>
<use href="#mp" x="1705.6" y="381.24"/>
<use href="#mp" x="1711.19" y="375.65"/>
<use href="#mp" x="1722.37" y="375.65"/>
<use href="#mp" x="1733.55" y="381.24"/>
<use href="#mp" x="1744.73" y="386.83"/>
<use href="#mp" x="1750.32" y="381.24"/>
<use href="#mp" x="1761.5" y="386.83"/>
<use href="#mp" x="1772.68" y="386.83"/>
<use href="#mp" x="1778.27" y="386.83"/>
<use href="#mp" x="1789.45" y="375.65"/>
<use href="#mp" x="1800.63" y="386.83"/>
<use href="#mp" x="1811.81" y="381.24"/>
<use href="#mp" x="1817.4" y="381.24"/>
<use href="#mp" x="1828.58" y="386.83"/>
<use href="#mp" x="1839.76" y="386.83"/>
<use href="#mp" x="1850.94" y="386.83"/>
</g>
</g>
<g fill="#000" fill-opacity="0.8">
<rect x="308.1" y="40.25" width="1565.2" height="5.59"/>
<rect x="308.1" y="1560.73" width="1565.2" height="5.59"/>
<rect x="308.1" y="45.84" width="5.59" height="1514.89"/>
<rect x="1867.71" y="45.84" width="5.59" height="1514.89"/>
<rect x="308.1" y="1566.32" width="5.59" height="16.77"/>
<rect x="503.75" y="1566.32" width="5.59" height="16.77"/>
<rect x="693.81" y="1566.32" width="5.59" height="16.77"/>
<rect x="889.46" y="1566.32" width="5.59" height="16.77"/>
<rect x="1085.11" y="1566.32" width="5.59" height="16.77"/>
<rect x="1280.76" y="1566.32" width="5.59" height="16.77"/>
<rect x="1476.41" y="1566.32" width="5.59" height="16.77"/>
<rect x="1672.06" y="1566.32" width="5.59" height="16.77"/>
<rect x="1867.71" y="1566.32" width="5.59" height="16.77"/>
<rect x="291.33" y="1560.73" width="16.77" height="5.59"/>
<rect x="291.33" y="1253.28" width="16.77" height="5.59"/>
<rect x="291.33" y="951.42" width="16.77" height="5.59"/>
<rect x="291.33" y="649.56" width="16.77" height="5.59"/>
<rect x="291.33" y="342.11" width="16.77" height="5.59"/>
<rect x="291.33" y="40.25" width="16.77" height="5.59"/>
</g><g fill="#000" fill-opacity="0.4">
<rect x="308.1" y="1583.09" width="5.59" height="5.59"/>
<rect x="503.75" y="1583.09" width="5.59" height="5.59"/>
<rect x="693.81" y="1583.09" width="5.59" height="5.59"/>
<rect x="889.46" y="1583.09" width="5.59" height="5.59"/>
<rect x="1085.11" y="1583.09" width="5.59" height="5.59"/>
<rect x="1280.76" y="1583.09" width="5.59" height="5.59"/>
<rect x="1476.41" y="1583.09" width="5.59" height="5.59"/>
<rect x="1672.06" y="1583.09" width="5.59" height="5.59"/>
<rect x="1867.71" y="1583.09" width="5.59" height="5.59"/>
<rect x="285.74" y="1560.73" width="5.59" height="5.59"/>
<rect x="285.74" y="1253.28" width="5.59" height="5.59"/>
<rect x="285.74" y="951.42" width="5.59" height="5.59"/>
<rect x="285.74" y="649.56" width="5.59" height="5.59"/>
<rect x="285.74" y="342.11" width="5.59" height="5.59"/>
<rect x="285.74" y="40.25" width="5.59" height="5.59"/>
</g>
<g text-anchor="middle">
<text x="307.89" y="1644">0</text>
<text x="503.54" y="1644">20</text>
<text x="693.6" y="1644">40</text>
<text x="889.25" y="1644">60</text>
<text x="1084.9" y="1644">80</text>
<text x="1280.56" y="1644">100</text>
<text x="1476.21" y="1644">120</text>
<text x="1671.86" y="1644">140</text>
<text x="1867.51" y="1644">160</text>
</g>
<g text-anchor="end">
<text x="263" y="1582.52">50%</text>
<text x="263" y="1275.07">60%</text>
<text x="263" y="973.22">70%</text>
<text x="263" y="671.36">80%</text>
<text x="263" y="363.9">90%</text>
<text x="263" y="62.04">100%</text>
</g>
<text x="1085" y="1723" text-anchor="middle">Iterations</text>
<text transform="translate(68 808) rotate(-90)" text-anchor="middle">Coverage Rate</text>
<rect x="1340" y="1267" width="502" height="268" rx="11" ry="11" fill="#fff" fill-opacity="0.8" stroke="#ccc" stroke-opacity="0.8" stroke-width="5.59"/>
<g fill="#0000ff">
<rect x="1353.2" y="1303.41" width="123.2" height="11.18" fill-opacity="0.75"/>
<use href="#mc" x="1398" y="1292.23"/>
</g>
<text x="1513" y="1331">VF-PSO-DS</text>
<g fill="#ff0000">
<rect x="1353.2" y="1387.41" width="123.2" height="11.18" fill-opacity="0.75"/>
<use href="#mt" x="1398" y="1376.23"/>
</g>
<text x="1513" y="1415">PSO</text>
<g fill="#008000">
<rect x="1353.2" y="1471.41" width="123.2" height="11.18" fill-opacity="0.75"/>
<use href="#mp" x="1398" y="1460.23"/>
</g>
<text x="1513" y="1499">VF</text>
</svg>
</body>
</html>
